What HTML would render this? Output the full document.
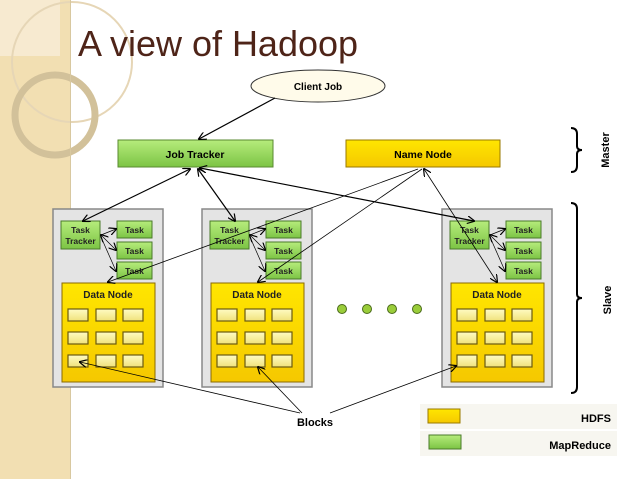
<!DOCTYPE html>
<html><head><style>body{margin:0;background:#fff}svg{display:block}</style></head><body>
<svg width="638" height="479" xmlns="http://www.w3.org/2000/svg" font-family="Liberation Sans, Arial, sans-serif">
<defs>
<marker id="a" markerWidth="8" markerHeight="8" refX="7" refY="4" orient="auto-start-reverse" markerUnits="userSpaceOnUse"><path d="M0,0 L8,4 L0,8" fill="none" stroke="#000" stroke-width="1.2"/></marker>
<linearGradient id="g" x1="0" y1="0" x2="0" y2="1"><stop offset="0" stop-color="#b6ec7c"/><stop offset="1" stop-color="#7cc444"/></linearGradient>
<linearGradient id="y" x1="0" y1="0" x2="0" y2="1"><stop offset="0" stop-color="#ffe600"/><stop offset="1" stop-color="#f5c800"/></linearGradient>
<linearGradient id="b" x1="0" y1="0" x2="0" y2="1"><stop offset="0" stop-color="#fffbc4"/><stop offset="1" stop-color="#f0e27a"/></linearGradient>
<g id="node">
<rect x="0" y="0" width="110" height="178" fill="#e4e4e4" stroke="#888" stroke-width="1.5"/>
<rect x="8" y="12" width="39" height="28" fill="url(#g)" stroke="#4a7a2a"/>
<text x="27.5" y="24" font-size="8.5" font-weight="bold" text-anchor="middle" fill="#222">Task</text>
<text x="27.5" y="35" font-size="8.5" font-weight="bold" text-anchor="middle" fill="#222">Tracker</text>
<rect x="64" y="12" width="35" height="17" fill="url(#g)" stroke="#4a7a2a"/><text x="81.5" y="24" font-size="8.5" font-weight="bold" text-anchor="middle" fill="#222">Task</text>
<rect x="64" y="33" width="35" height="17" fill="url(#g)" stroke="#4a7a2a"/><text x="81.5" y="45" font-size="8.5" font-weight="bold" text-anchor="middle" fill="#222">Task</text>
<rect x="64" y="53" width="35" height="17" fill="url(#g)" stroke="#4a7a2a"/><text x="81.5" y="65" font-size="8.5" font-weight="bold" text-anchor="middle" fill="#222">Task</text>
<g stroke="#000" stroke-width="0.7" fill="none"><path d="M48,26 L63,20" marker-end="url(#a)"/><path d="M48,26 L63,41" marker-end="url(#a)" marker-start="url(#a)"/><path d="M48,28 L63,62" marker-end="url(#a)"/></g>
<rect x="9" y="74" width="93" height="99" fill="url(#y)" stroke="#8a6a00"/>
<text x="55" y="89" font-size="10" font-weight="bold" text-anchor="middle" fill="#222">Data Node</text>
<g fill="url(#b)" stroke="#6a5a10" stroke-width="1.2">
<rect x="15" y="100" width="20" height="12"/><rect x="43" y="100" width="20" height="12"/><rect x="70" y="100" width="20" height="12"/>
<rect x="15" y="123" width="20" height="12"/><rect x="43" y="123" width="20" height="12"/><rect x="70" y="123" width="20" height="12"/>
<rect x="15" y="146" width="20" height="12"/><rect x="43" y="146" width="20" height="12"/><rect x="70" y="146" width="20" height="12"/>
</g></g>
</defs>
<rect x="0" y="0" width="70" height="479" fill="#f2dfb2"/>
<rect x="0" y="0" width="60" height="56" fill="#f7ead0"/>
<circle cx="72" cy="62" r="60" fill="none" stroke="#e6d6b6" stroke-width="2"/>
<circle cx="55" cy="115" r="40" fill="none" stroke="#d2c19a" stroke-width="7"/>
<line x1="70.5" y1="0" x2="70.5" y2="479" stroke="#d8c8a0"/>
<text x="78" y="56" font-size="36" fill="#4e2418" font-family="Liberation Sans, sans-serif" textLength="280">A view of Hadoop</text>
<ellipse cx="318" cy="86" rx="67" ry="16" fill="#fffbea" stroke="#333"/>
<text x="318" y="90" font-size="10" font-weight="bold" text-anchor="middle">Client Job</text>
<rect x="118" y="140" width="155" height="27" fill="url(#g)" stroke="#5a8a30"/>
<text x="195" y="158" font-size="10.5" font-weight="bold" text-anchor="middle">Job Tracker</text>
<rect x="346" y="140" width="154" height="27" fill="url(#y)" stroke="#9a7a00"/>
<text x="423" y="158" font-size="10.5" font-weight="bold" text-anchor="middle">Name Node</text>
<path d="M571,128 q6,0 6,6 v12 q0,4 5,4 q-5,0 -5,4 v12 q0,6 -6,6" fill="none" stroke="#000" stroke-width="2"/>
<text transform="translate(609,150) rotate(-90)" font-size="11" font-weight="bold" text-anchor="middle">Master</text>
<path d="M571,203 q6,0 6,6 v85 q0,4 5,4 q-5,0 -5,4 v85 q0,6 -6,6" fill="none" stroke="#000" stroke-width="2"/>
<text transform="translate(611,300) rotate(-90)" font-size="11" font-weight="bold" text-anchor="middle">Slave</text>
<use href="#node" x="53" y="209"/>
<use href="#node" x="202" y="209"/>
<use href="#node" x="442" y="209"/>
<g fill="#9acd3a" stroke="#4a6a1a"><circle cx="342" cy="309" r="4.5"/><circle cx="367" cy="309" r="4.5"/><circle cx="392" cy="309" r="4.5"/><circle cx="417" cy="309" r="4.5"/></g>
<g stroke="#000" fill="none">
<path d="M275,98 L199,139" stroke-width="1.2" marker-end="url(#a)"/>
<path d="M190,169 L83,221" stroke-width="1.2" marker-end="url(#a)" marker-start="url(#a)"/>
<path d="M198,169 L235,221" stroke-width="1.2" marker-end="url(#a)" marker-start="url(#a)"/>
<path d="M200,168 L474,221" stroke-width="1.2" marker-end="url(#a)" marker-start="url(#a)"/>
<path d="M418,169 L108,282" stroke-width="0.8" marker-end="url(#a)"/>
<path d="M422,169 L258,282" stroke-width="0.8" marker-end="url(#a)"/>
<path d="M424,169 L497,282" stroke-width="0.8" marker-end="url(#a)" marker-start="url(#a)"/>
<path d="M300,413 L80,362" stroke-width="0.8" marker-end="url(#a)"/>
<path d="M302,413 L258,367" stroke-width="0.8" marker-end="url(#a)"/>
<path d="M330,413 L456,366" stroke-width="0.8" marker-end="url(#a)"/>
</g>
<text x="315" y="426" font-size="11" font-weight="bold" text-anchor="middle">Blocks</text>
<rect x="420" y="404" width="197" height="25" fill="#f7f6f0"/>
<rect x="420" y="431" width="197" height="25" fill="#f7f6f0"/>
<rect x="428" y="409" width="32" height="14" fill="url(#y)" stroke="#9a7a00"/>
<rect x="429" y="435" width="32" height="14" fill="url(#g)" stroke="#4a7a2a"/>
<text x="611" y="422" font-size="11" font-weight="bold" text-anchor="end">HDFS</text>
<text x="611" y="449" font-size="11" font-weight="bold" text-anchor="end">MapReduce</text>
</svg>
</body></html>
